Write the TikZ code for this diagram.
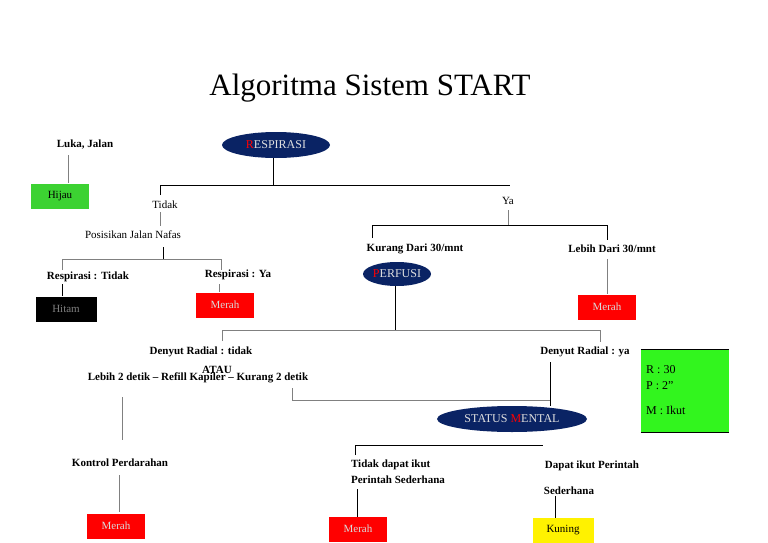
\documentclass[tikz,border=0pt]{standalone}
\usepackage{fontspec}
\setmainfont{Liberation Serif}
\usetikzlibrary{shapes.geometric}
\definecolor{navy}{RGB}{10,35,100}
\definecolor{boxgreen}{RGB}{60,210,50}
\definecolor{limegreen}{RGB}{50,245,30}
\begin{document}
\begin{tikzpicture}[x=1pt,y=-1pt,
    lbl/.style={font=\fontsize{11}{13}\selectfont\bfseries, inner sep=1pt},
    txt/.style={font=\fontsize{11}{13}\selectfont, inner sep=1pt},
    tag/.style={rectangle, minimum width=58pt, minimum height=25pt, inner sep=0pt, font=\fontsize{11}{13}\selectfont},
    oval/.style={ellipse, fill=navy, text=white!75!gray, inner sep=0pt, font=\fontsize{12}{14}\selectfont},
    wire/.style={draw=black, line width=0.8pt},
    thin/.style={draw=gray, line width=0.6pt}
]
    \useasboundingbox (0,0) rectangle (768,543);

    % Title
    \node[font=\fontsize{31}{35}\selectfont] (title) at (370,88) {Algoritma Sistem START};

    % --- Respirasi ---
    \node[oval, minimum width=108pt, minimum height=26pt] (resp) at (276,145) {\textcolor{red}{R}ESPIRASI};
    \node[lbl] (luka) at (85,145) {Luka, Jalan};
    \node[tag, fill=boxgreen] (hijau) at (60,196) {Hijau};
    \draw[thin] (68,155) -- (68,183);

    \coordinate (rsplit) at (273,185);
    \draw[wire] (resp.south -| rsplit) -- (rsplit);
    \draw[wire] (160,195) -- (160,185) -- (510,185);
    \node[txt] (tidak) at (165,205) {Tidak};
    \node[txt] (ya) at (508,201) {Ya};

    % Tidak branch
    \node[txt] (posisi) at (133,235) {Posisikan Jalan Nafas};
    \draw[thin] (160,212) -- (160,226);
    \draw[wire] (163,247) -- (163,259);
    \draw[thin] (62,270) -- (62,259) -- (221,259) -- (221,270);
    \node[lbl] (rtidak) at (88,277) {Respirasi : Tidak};
    \node[lbl] (rya) at (238,275) {Respirasi : Ya};
    \node[tag, fill=black, text=gray, minimum width=61pt] (hitam) at (66,309) {Hitam};
    \node[tag, fill=red, text=white!70!gray] (merah1) at (225,305) {Merah};
    \draw[wire] (62,284) -- (hitam.north -| 62,0);
    \draw[thin] (219,284) -- (merah1.north -| 219,0);

    % Ya branch
    \draw[thin] (508,210) -- (508,225);
    \draw[wire] (372,238) -- (372,225) -- (607,225) -- (607,240);
    \node[lbl] (kurang) at (415,249) {Kurang Dari 30/mnt};
    \node[lbl] (lebih) at (612,249) {Lebih Dari 30/mnt};
    \node[oval, minimum width=68pt, minimum height=24pt] (perf) at (397,274) {\textcolor{red}{P}ERFUSI};
    \node[tag, fill=red, text=white!70!gray] (merah2) at (607,307) {Merah};
    \draw[thin] (607,259) -- (merah2.north);

    % --- Perfusi ---
    \coordinate (psplit) at (395,330);
    \draw[wire] (perf.south -| psplit) -- (psplit);
    \draw[thin] (222,341) -- (222,330) -- (600,330) -- (600,342);
    \node[lbl] (dtidak) at (201,352) {Denyut Radial : tidak};
    \node[lbl] (atau) at (217,370) {ATAU};
    \node[lbl] (refill) at (198,378) {Lebih 2 detik -- Refill Kapiler -- Kurang 2 detik};
    \node[lbl] (dya) at (585,352) {Denyut Radial : ya};

    \node[oval, minimum width=150pt, minimum height=26pt] (mental) at (512,419) {STATUS \textcolor{red}{M}ENTAL};
    \draw[wire] (550,362) -- (mental.north -| 550,0);
    \draw[thin] (292,388) -- (292,400) -- (550,400);

    \draw[thin] (122,397) -- (122,440);
    \node[lbl] (kontrol) at (120,463) {Kontrol Perdarahan};
    \draw[thin] (119,475) -- (119,512);
    \node[tag, fill=red, text=white!70!gray] (merah3) at (116,526) {Merah};

    % --- Status Mental ---
    \draw[wire] (355,455) -- (355,445) -- (543,445);
    \node[lbl, align=left, font=\fontsize{11}{16}\selectfont\bfseries] (tdapat) at (398,472) {Tidak dapat ikut\\Perintah Sederhana};
    \draw[wire] (357,489) -- (357,517);
    \node[tag, fill=red, text=white!70!gray] (merah4) at (358,529) {Merah};

    \node[lbl] (dapat) at (592,466) {Dapat ikut Perintah};
    \node[lbl] (seder) at (569,491) {Sederhana};
    \draw[wire] (555,496) -- (555,518);
    \node[tag, fill=yellow, minimum width=61pt] (kuning) at (563,530) {Kuning};

    % Legend
    \node[rectangle, fill=limegreen, minimum width=88pt, minimum height=82pt] (legend) at (685,391) {};
    \draw[wire] (legend.north west) -- (legend.north east);
    \draw[wire] (legend.south west) -- (legend.south east);
    \node[txt, anchor=west, font=\fontsize{12}{14}\selectfont] (lr) at (645,370) {R : 30};
    \node[txt, anchor=west, font=\fontsize{12}{14}\selectfont] (lp) at (645,386) {P : 2''};
    \node[txt, anchor=west, font=\fontsize{12}{14}\selectfont] (lm) at (645,410) {M : Ikut};
\end{tikzpicture}
\end{document}
